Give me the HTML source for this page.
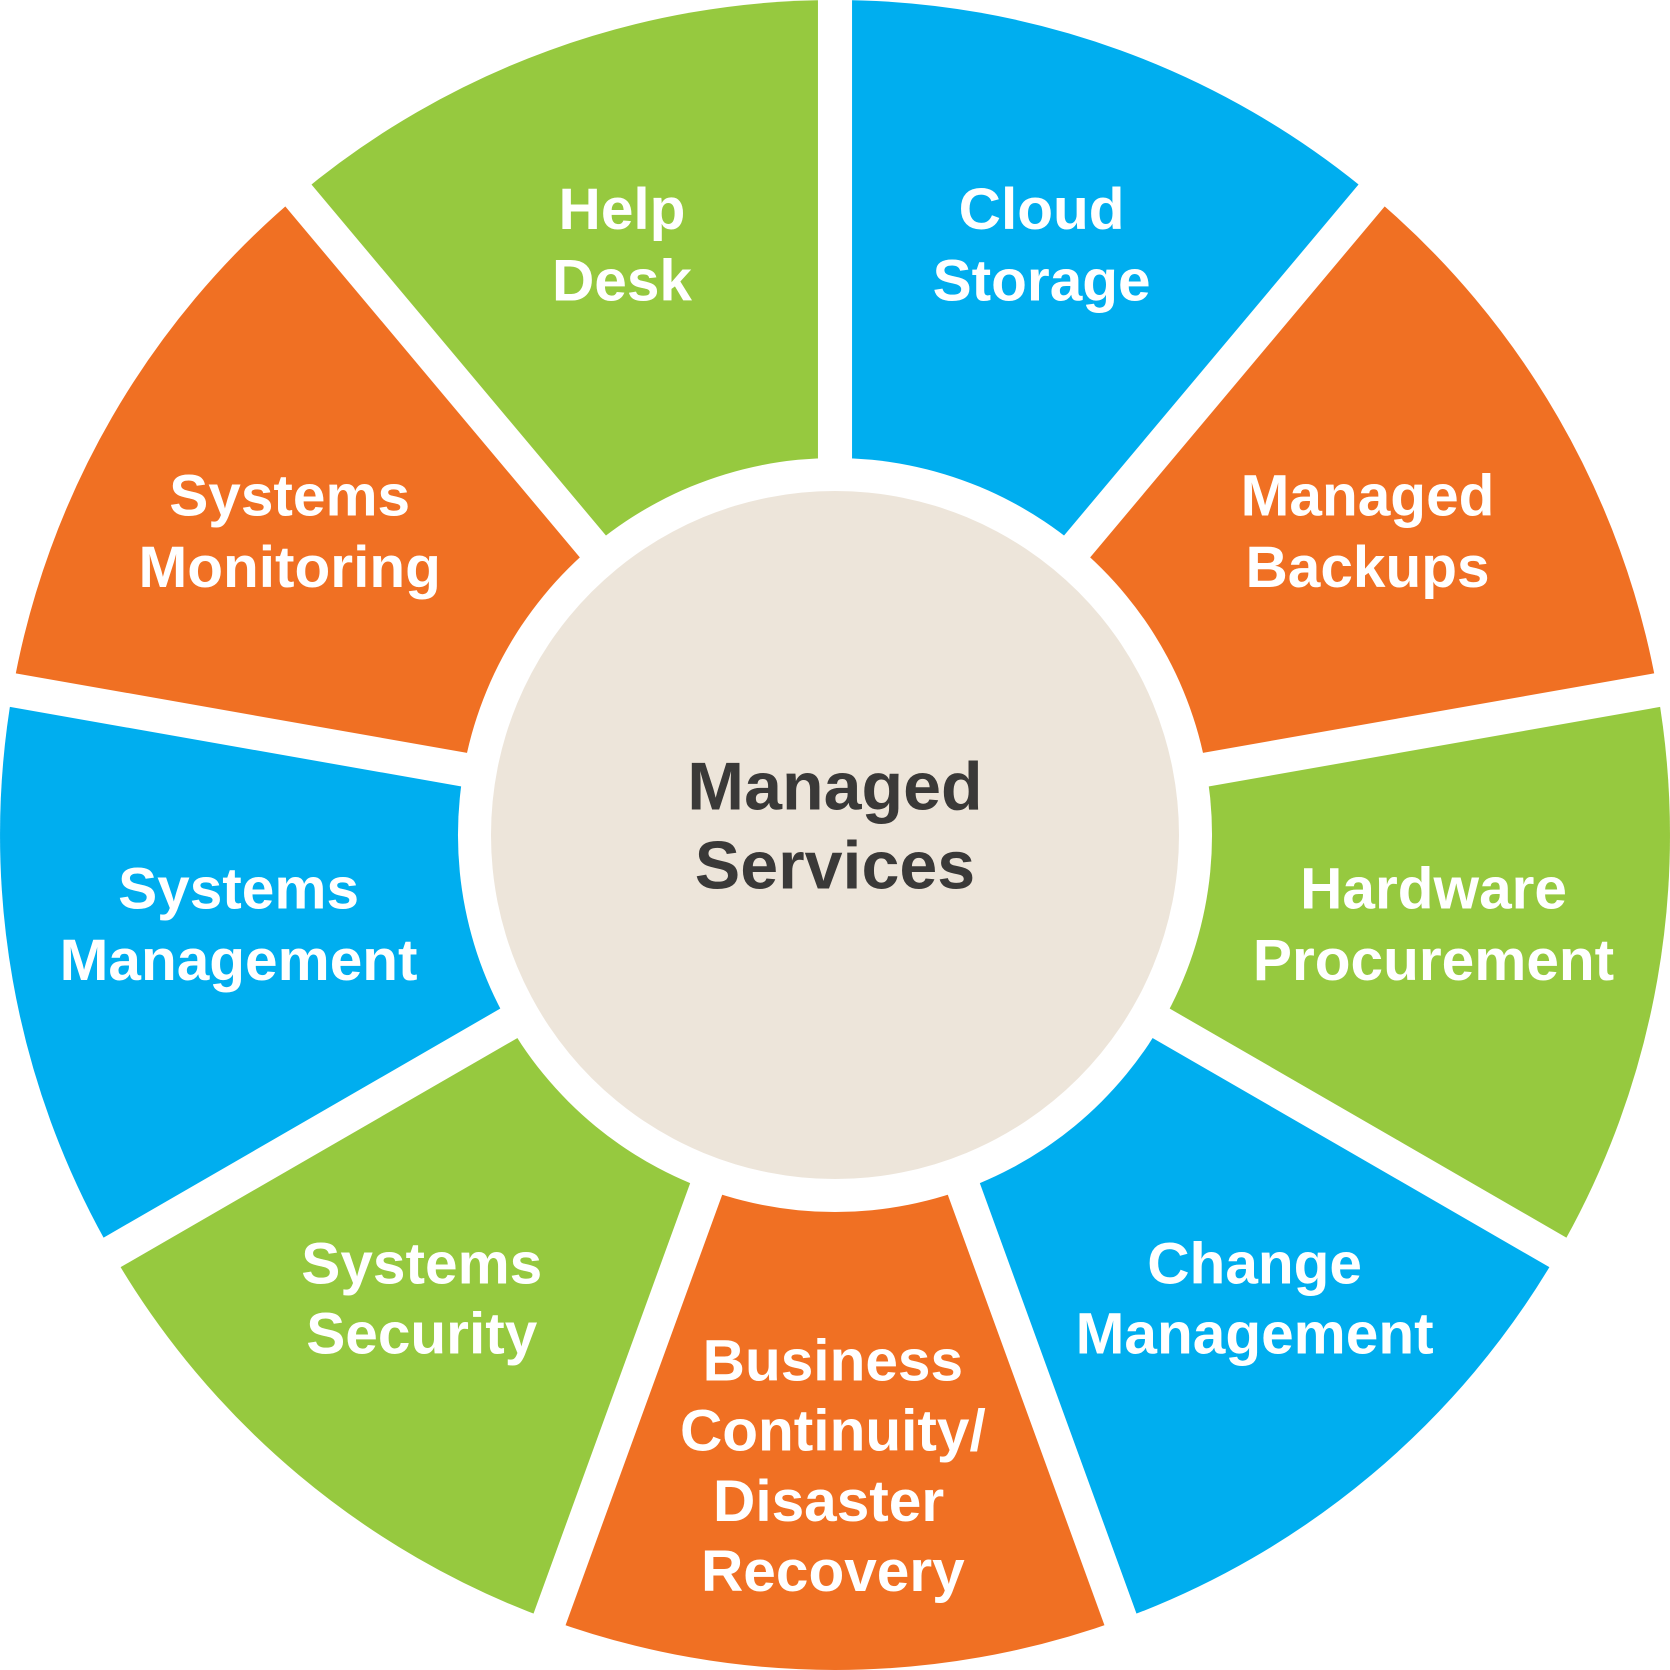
<!DOCTYPE html>
<html><head><style>
html,body{margin:0;padding:0;background:#fff;}
svg{display:block;}
text{font-family:"Liberation Sans",sans-serif;font-weight:bold;text-anchor:middle;}
.w{fill:#fff;font-size:55px;}
.c{fill:#3a3938;font-size:64px;}
</style></head><body>
<svg width="1670" height="1670" viewBox="0 0 1568 1568" xmlns="http://www.w3.org/2000/svg">
<rect width="1568" height="1568" fill="#fff"/>
<g>
<path d="M784 784 L784 0 A784 784 0 0 1 1288 183.4 Z" fill="#00AEEF"/>
<path d="M784 784 L1288 183.4 A784 784 0 0 1 1556.1 647.9 Z" fill="#F07023"/>
<path d="M784 784 L1556.1 647.9 A784 784 0 0 1 1462.9 1176 Z" fill="#96C93F"/>
<path d="M784 784 L1462.9 1176 A784 784 0 0 1 1052.1 1520.7 Z" fill="#00AEEF"/>
<path d="M784 784 L1052.1 1520.7 A784 784 0 0 1 515.9 1520.7 Z" fill="#F07023"/>
<path d="M784 784 L515.9 1520.7 A784 784 0 0 1 105.1 1176 Z" fill="#96C93F"/>
<path d="M784 784 L105.1 1176 A784 784 0 0 1 11.9 647.9 Z" fill="#00AEEF"/>
<path d="M784 784 L11.9 647.9 A784 784 0 0 1 280 183.4 Z" fill="#F07023"/>
<path d="M784 784 L280 183.4 A784 784 0 0 1 784 0 Z" fill="#96C93F"/>
</g>
<g stroke="#fff" stroke-width="32">
<line x1="784" y1="784" x2="784" y2="-10"/>
<line x1="784" y1="784" x2="1294.4" y2="175.7"/>
<line x1="784" y1="784" x2="1566" y2="646.2"/>
<line x1="784" y1="784" x2="1471.6" y2="1181"/>
<line x1="784" y1="784" x2="1055.5" y2="1530"/>
<line x1="784" y1="784" x2="512.5" y2="1530"/>
<line x1="784" y1="784" x2="96.4" y2="1181"/>
<line x1="784" y1="784" x2="2" y2="646.2"/>
<line x1="784" y1="784" x2="273.6" y2="175.7"/>
</g>
<circle cx="784" cy="784" r="354" fill="#fff"/>
<circle cx="784" cy="784" r="323" fill="#EDE5DA"/>
<text class="c" x="784" y="760">Managed</text>
<text class="c" x="784" y="834">Services</text>
<text class="w" x="584" y="215">Help</text><text class="w" x="584" y="282">Desk</text>
<text class="w" x="978" y="215">Cloud</text><text class="w" x="978" y="282">Storage</text>
<text class="w" x="1284" y="484">Managed</text><text class="w" x="1284" y="551">Backups</text>
<text class="w" x="272" y="484">Systems</text><text class="w" x="272" y="551">Monitoring</text>
<text class="w" x="224" y="853">Systems</text><text class="w" x="224" y="920">Management</text>
<text class="w" x="1346" y="853">Hardware</text><text class="w" x="1346" y="920">Procurement</text>
<text class="w" x="396" y="1205">Systems</text><text class="w" x="396" y="1271">Security</text>
<text class="w" x="1178" y="1205">Change</text><text class="w" x="1178" y="1271">Management</text>
<text class="w" x="782" y="1296">Business</text><text class="w" x="782" y="1362">Continuity/</text>
<text class="w" x="778" y="1428">Disaster</text><text class="w" x="782" y="1494">Recovery</text>
</svg>
</body></html>
